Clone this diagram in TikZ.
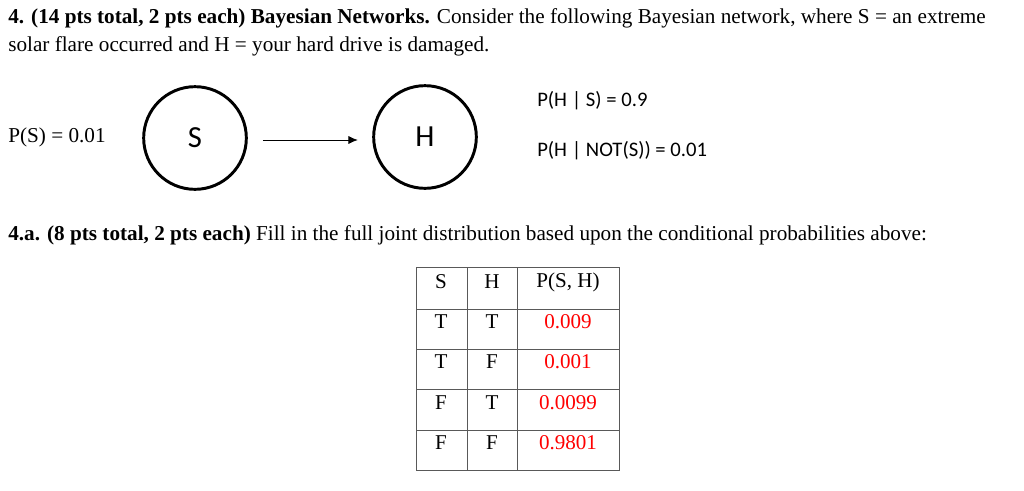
\documentclass[tikz,border=0pt]{standalone}
\usepackage{fontspec}
\setmainfont{Liberation Serif}
\newfontfamily\calib{Carlito}
\usetikzlibrary{arrows.meta}
\begin{document}
\begin{tikzpicture}[x=0.75pt,y=-0.75pt,
  txt/.style={anchor=west,inner sep=0,font=\fontsize{15.9}{18}\selectfont},
  sans/.style={inner sep=0,font=\calib\fontsize{15.5}{18}\selectfont},
  nodec/.style={circle,draw,line width=2.2pt,minimum size=77pt,inner sep=0,font=\calib\fontsize{23}{26}\selectfont},
  cell/.style={inner sep=0,font=\fontsize{15.8}{18}\selectfont},
  val/.style={cell,text=red}]
\useasboundingbox (0,0) rectangle (1024,490);
\node[txt] (t1) at (8,18) {\textbf{4. (14 pts total, 2 pts each) Bayesian Networks.} Consider the following Bayesian network, where S = an extreme};
\node[txt] (t2) at (8,46) {solar flare occurred and H = your hard drive is damaged.};
\node[txt] (ps) at (8,137) {P(S) = 0.01};
\node[nodec] (S) at (195,138) {S};
\node[nodec] (H) at (425,137) {H};
\draw[-{Latex[length=7pt,width=6pt]},line width=0.6pt] (S.east)++(15,2) coordinate (a1) -- ++(95,0) coordinate (a2);
\node[sans,anchor=west] (c1) at (537,101) {P(H | S) = 0.9};
\node[sans,anchor=west] (c2) at (537,151) {P(H | NOT(S)) = 0.01};
\node[txt] (t3) at (8,235) {\textbf{4.a. (8 pts total, 2 pts each)} Fill in the full joint distribution based upon the conditional probabilities above:};
\draw[line width=0.7pt,gray!70!black] (416,267) rectangle (619,470);
\foreach \y in {309,349,389,430} \draw[line width=0.7pt,gray!70!black] (416,\y) -- (619,\y);
\foreach \x in {467,517} \draw[line width=0.7pt,gray!70!black] (\x,267) -- (\x,470);
\node[cell] (h1) at (441,282) {S};
\node[cell] (h2) at (492,282) {H};
\node[cell] (h3) at (568,282) {P(S, H)};
\node[cell] (r1a) at (441,322) {T}; \node[cell] (r1b) at (492,322) {T}; \node[val] (r1c) at (568,322) {0.009};
\node[cell] (r2a) at (441,362) {T}; \node[cell] (r2b) at (492,362) {F}; \node[val] (r2c) at (568,362) {0.001};
\node[cell] (r3a) at (441,403) {F}; \node[cell] (r3b) at (492,403) {T}; \node[val] (r3c) at (568,403) {0.0099};
\node[cell] (r4a) at (441,443) {F}; \node[cell] (r4b) at (492,443) {F}; \node[val] (r4c) at (568,443) {0.9801};
\end{tikzpicture}
\end{document}
